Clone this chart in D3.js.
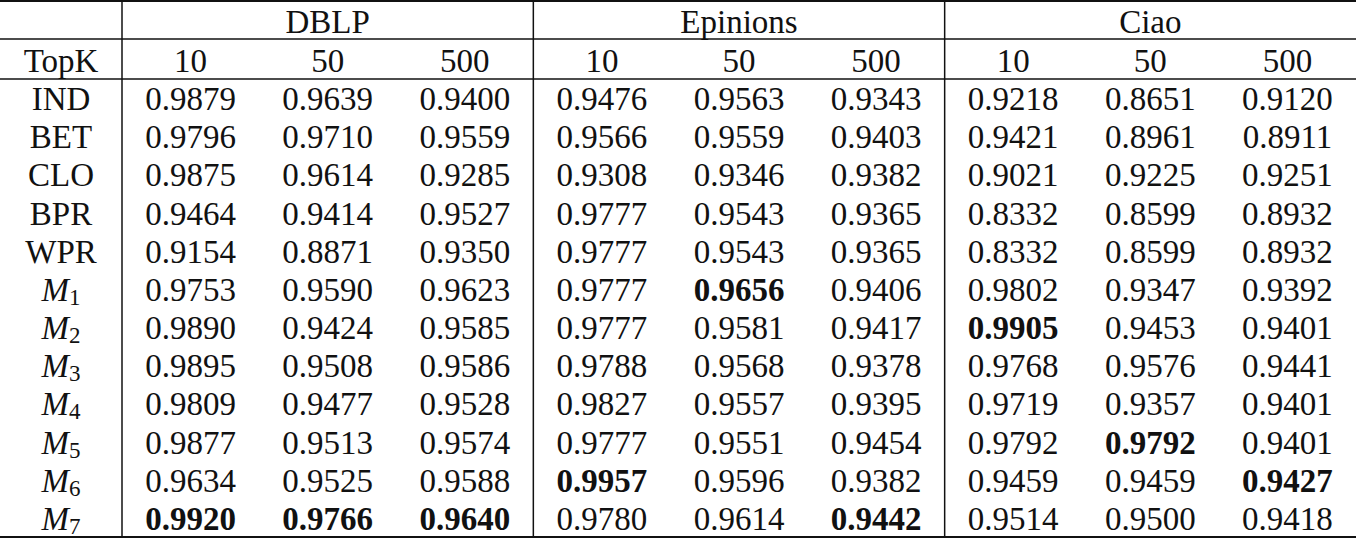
<!DOCTYPE html>
<html><head><meta charset="utf-8">
<script src="https://cdn.jsdelivr.net/npm/d3@7"></script>
<style>body{margin:0;background:#fff}svg{display:block}text{font-family:"Liberation Serif","DejaVu Serif",serif;fill:#111}</style>
</head><body><svg id="root"></svg>
<script>
const width = 1356
const height = 540

const datasets = ['DBLP', 'Epinions', 'Ciao']
const topK = ['10', '50', '500']
const methods = ['IND', 'BET', 'CLO', 'BPR', 'WPR', 'M1', 'M2', 'M3', 'M4', 'M5', 'M6', 'M7']
const values = [
  [0.9879, 0.9639, 0.9400, 0.9476, 0.9563, 0.9343, 0.9218, 0.8651, 0.9120],
  [0.9796, 0.9710, 0.9559, 0.9566, 0.9559, 0.9403, 0.9421, 0.8961, 0.8911],
  [0.9875, 0.9614, 0.9285, 0.9308, 0.9346, 0.9382, 0.9021, 0.9225, 0.9251],
  [0.9464, 0.9414, 0.9527, 0.9777, 0.9543, 0.9365, 0.8332, 0.8599, 0.8932],
  [0.9154, 0.8871, 0.9350, 0.9777, 0.9543, 0.9365, 0.8332, 0.8599, 0.8932],
  [0.9753, 0.9590, 0.9623, 0.9777, 0.9656, 0.9406, 0.9802, 0.9347, 0.9392],
  [0.9890, 0.9424, 0.9585, 0.9777, 0.9581, 0.9417, 0.9905, 0.9453, 0.9401],
  [0.9895, 0.9508, 0.9586, 0.9788, 0.9568, 0.9378, 0.9768, 0.9576, 0.9441],
  [0.9809, 0.9477, 0.9528, 0.9827, 0.9557, 0.9395, 0.9719, 0.9357, 0.9401],
  [0.9877, 0.9513, 0.9574, 0.9777, 0.9551, 0.9454, 0.9792, 0.9792, 0.9401],
  [0.9634, 0.9525, 0.9588, 0.9957, 0.9596, 0.9382, 0.9459, 0.9459, 0.9427],
  [0.9920, 0.9766, 0.9640, 0.9780, 0.9614, 0.9442, 0.9514, 0.9500, 0.9418]
]
// bold cells [row, col]
const bold = [[5, 4], [6, 6], [9, 7], [10, 3], [10, 8], [11, 0], [11, 1], [11, 2], [11, 5]]

const svg = d3.select('#root').attr('width', width).attr('height', height)

const firstColW = 122
const gScale = d3.scaleBand().domain(datasets).range([firstColW, width])
const kScale = d3.scaleBand().domain(topK).range([0, gScale.bandwidth()])
const colX = i => gScale(datasets[Math.floor(i / 3)]) + kScale(topK[i % 3]) + kScale.bandwidth() / 2

const headY = d3.scaleBand().domain(['h1', 'h2']).range([1, 79])
const rowY = d3.scaleBand().domain(methods).range([79, 537])

const fs = 33
// lines
const hl = [1, 39, 79, 537]
svg.selectAll('line.h').data(hl).enter().append('line')
  .attr('x1', 0).attr('x2', width).attr('y1', d => d).attr('y2', d => d)
  .attr('stroke', '#111').attr('stroke-width', (d, i) => i === 0 || i === 3 ? 2 : 1.5)
svg.append('line').attr('x1', firstColW).attr('x2', firstColW).attr('y1', 1).attr('y2', 537)
  .attr('stroke', '#111').attr('stroke-width', 1.5)
svg.selectAll('line.v').data(datasets.slice(1)).enter().append('line')
  .attr('x1', d => gScale(d)).attr('x2', d => gScale(d)).attr('y1', 1).attr('y2', 537)
  .attr('stroke', '#111').attr('stroke-width', 1.5)

const txt = (x, y, s) => svg.append('text').attr('x', x).attr('y', y + 1)
  .attr('text-anchor', 'middle').attr('dominant-baseline', 'central')
  .attr('font-size', fs).text(s)

datasets.forEach(d => txt(gScale(d) + gScale.bandwidth() / 2, headY('h1') + headY.bandwidth() / 2, d))
txt(firstColW / 2, headY('h2') + headY.bandwidth() / 2, 'TopK')
d3.range(9).forEach(i => txt(colX(i), headY('h2') + headY.bandwidth() / 2, topK[i % 3]))

methods.forEach((m, r) => {
  const cy = rowY(m) + rowY.bandwidth() / 2
  if (m[0] === 'M') {
    const t = txt(firstColW / 2, cy, '')
    t.append('tspan').attr('font-style', 'italic').text('M')
    t.append('tspan').attr('font-size', 23).attr('dy', 7).text(m.slice(1))
  } else {
    txt(firstColW / 2, cy, m)
  }
  values[r].forEach((v, c) => {
    const isBold = bold.some(b => b[0] === r && b[1] === c)
    txt(colX(c), cy, v.toFixed(4)).attr('font-weight', isBold ? 'bold' : 'normal')
  })
})
</script></body></html>
